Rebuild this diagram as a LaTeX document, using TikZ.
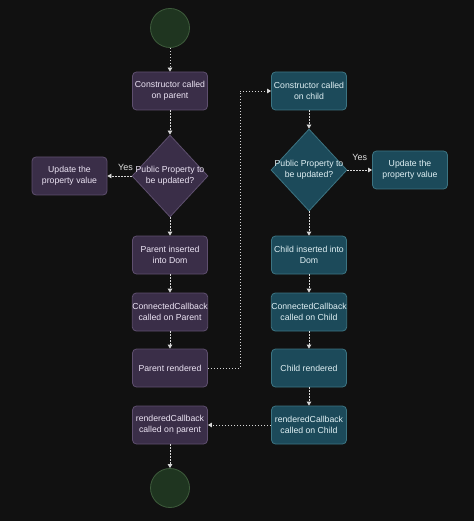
\documentclass[tikz,border=0pt]{standalone}
\usepackage{fontspec}
\setmainfont{Liberation Sans}
\usepackage{tikz}
\usetikzlibrary{arrows.meta,shapes.geometric}
\definecolor{pagebg}{HTML}{111111}
\definecolor{parentbg}{HTML}{3A2E48}
\definecolor{parentbd}{HTML}{5E4F6E}
\definecolor{parenttx}{HTML}{ECE4F4}
\definecolor{childbg}{HTML}{1C4A5A}
\definecolor{childbd}{HTML}{3C7482}
\definecolor{childtx}{HTML}{E0F0F4}
\definecolor{termbg}{HTML}{1F3520}
\definecolor{termbd}{HTML}{3E5C3C}
\definecolor{flowln}{HTML}{D8D8D8}
\newcommand\boxfont{\fontsize{8.7}{10.8}\selectfont}
\tikzset{
  parentbox/.style={draw=parentbd,fill=parentbg,rounded corners=4pt,
                    line width=0.8pt,minimum width=75pt,minimum height=38pt,
                    inner xsep=0pt,inner ysep=1pt,text=parenttx,font=\boxfont,
                    align=center},
  childbox/.style={parentbox,draw=childbd,fill=childbg,text=childtx},
  parentdec/.style={diamond,draw=parentbd,fill=parentbg,line width=0.8pt,
                    minimum width=76pt,minimum height=82pt,inner sep=0pt},
  childdec/.style={parentdec,draw=childbd,fill=childbg},
  dectext/.style={font=\boxfont,align=center,inner sep=0pt},
  terminal/.style={circle,draw=termbd,fill=termbg,line width=0.8pt,
                   minimum size=39pt,inner sep=0pt},
  flow/.style={-{Triangle[length=4pt,width=4.5pt]},flowln,line width=0.8pt,
               dash pattern=on 1.5pt off 1.5pt},
  yeslabel/.style={font=\fontsize{9}{11}\selectfont,text=white!88!black,
                   inner sep=0pt},
}
\begin{document}
\begin{tikzpicture}[x=1pt,y=-1pt]
  \useasboundingbox[fill=pagebg] (0,0) rectangle (474,521);
  % parent column
  \node[terminal] (start) at (170,28) {};
  \node[parentbox] (pcons) at (170,91) {Constructor called\\on parent};
  \node[parentdec] (pdec) at (170,176) {};
  \node[dectext,text=parenttx] (pdectx) at (pdec) {Public Property to\\be updated?};
  \node[parentbox] (pupd) at (69.5,176) {Update the\\property value};
  \foreach \i/\y/\t in {1/255/{Parent inserted\\into Dom},
                        2/312/{ConnectedCallback\\called on Parent},
                        3/368/{Parent rendered},
                        4/425/{renderedCallback\\called on parent}}{
    \node[parentbox] (p\i) at (170,\y) {\t};
  }
  \node[terminal] (stop) at (170,488) {};
  % child column
  \node[childbox] (ccons) at (309,91) {Constructor called\\on child};
  \node[childdec] (cdec) at (309,170) {};
  \node[dectext,text=childtx] (cdectx) at (cdec) {Public Property to\\be updated?};
  \node[childbox] (cupd) at (410,170) {Update the\\property value};
  \foreach \i/\y/\t in {1/255/{Child inserted into\\Dom},
                        2/312/{ConnectedCallback\\called on Child},
                        3/368/{Child rendered},
                        4/425/{renderedCallback\\called on Child}}{
    \node[childbox] (c\i) at (309,\y) {\t};
  }
  % connectors
  \draw[flow] (start) -- (pcons);
  \draw[flow] (pcons) -- (pdec);
  \draw[flow] (pdec) -- node[yeslabel,pos=0.25,above=5pt] (pyes) {Yes} (pupd);
  \draw[flow] (pdec) -- (p1);
  \draw[flow] (p1) -- (p2);
  \draw[flow] (p2) -- (p3);
  \draw[flow] (p3) -- ++(70,0) |- (ccons);
  \draw[flow] (ccons) -- (cdec);
  \draw[flow] (cdec) -- node[yeslabel,pos=0.5,above=9pt] (cyes) {Yes} (cupd);
  \draw[flow] (cdec) -- (c1);
  \draw[flow] (c1) -- (c2);
  \draw[flow] (c2) -- (c3);
  \draw[flow] (c3) -- (c4);
  \draw[flow] (c4) -- (p4);
  \draw[flow] (p4) -- (stop);
\end{tikzpicture}
\end{document}
